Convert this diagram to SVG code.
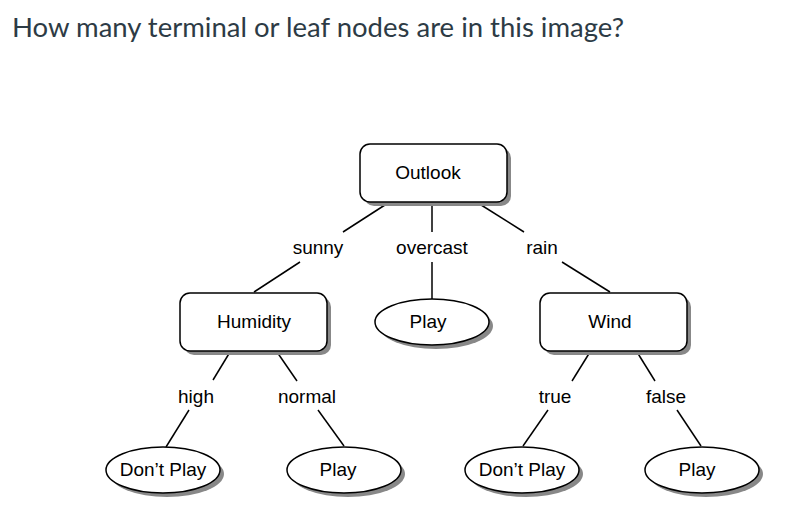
<svg xmlns="http://www.w3.org/2000/svg" width="791" height="515" viewBox="0 0 791 515">
<style>
.box{fill:#fff;stroke:#000;stroke-width:1.5}
.sh{fill:#888}
.t{font-family:"Liberation Sans",Arial,sans-serif;font-size:19px;fill:#000;text-anchor:middle}
.c line{stroke:#000;stroke-width:1.5}
</style>
<rect width="791" height="515" fill="#fff"/>
<text x="12" y="37" font-family="Lato,sans-serif" font-size="27.5" fill="#2d3b45">How many terminal or leaf nodes are in this image?</text>
<g class="c">
<line x1="388" y1="203" x2="343" y2="232"/><line x1="300" y1="262" x2="254" y2="292"/>
<line x1="432" y1="203" x2="432" y2="232"/><line x1="432" y1="262" x2="432" y2="299"/>
<line x1="478" y1="203" x2="524" y2="232"/><line x1="562" y1="262" x2="610" y2="292"/>
<line x1="230" y1="352" x2="213" y2="380"/><line x1="189" y1="410" x2="166" y2="447"/>
<line x1="277" y1="352" x2="297" y2="381"/><line x1="318" y1="410" x2="344" y2="446"/>
<line x1="590" y1="352" x2="572" y2="381"/><line x1="548" y1="410" x2="523" y2="446"/>
<line x1="637" y1="352" x2="655" y2="381"/><line x1="677" y1="410" x2="701" y2="446"/>
</g>
<text class="t" x="318" y="254">sunny</text>
<text class="t" x="432" y="254">overcast</text>
<text class="t" x="542" y="254">rain</text>
<text class="t" x="196" y="403">high</text>
<text class="t" x="307" y="403">normal</text>
<text class="t" x="555" y="403">true</text>
<text class="t" x="666" y="403">false</text>
<g id="outlook"><rect class="sh" x="364" y="148" width="147" height="58" rx="10"/><rect class="box" x="360" y="144" width="147" height="58" rx="10"/><text class="t" x="428" y="179">Outlook</text></g>
<g id="humidity"><rect class="sh" x="184" y="297" width="147" height="58" rx="10"/><rect class="box" x="180" y="293" width="147" height="58" rx="10"/><text class="t" x="254" y="328">Humidity</text></g>
<g id="wind"><rect class="sh" x="544" y="297" width="147" height="58" rx="10"/><rect class="box" x="540" y="293" width="147" height="58" rx="10"/><text class="t" x="610" y="328">Wind</text></g>
<g id="play1"><ellipse class="sh" cx="436" cy="326" rx="57" ry="23"/><ellipse class="box" cx="432" cy="322" rx="57" ry="23"/><text class="t" x="428" y="328">Play</text></g>
<g id="dontplay1"><ellipse class="sh" cx="167" cy="474" rx="57" ry="23"/><ellipse class="box" cx="163" cy="470" rx="57" ry="23"/><text class="t" x="163" y="476">Don’t Play</text></g>
<g id="play2"><ellipse class="sh" cx="348" cy="474" rx="57" ry="23"/><ellipse class="box" cx="344" cy="470" rx="57" ry="23"/><text class="t" x="338" y="476">Play</text></g>
<g id="dontplay2"><ellipse class="sh" cx="526" cy="474" rx="57" ry="23"/><ellipse class="box" cx="522" cy="470" rx="57" ry="23"/><text class="t" x="522" y="476">Don’t Play</text></g>
<g id="play3"><ellipse class="sh" cx="706" cy="474" rx="57" ry="23"/><ellipse class="box" cx="702" cy="470" rx="57" ry="23"/><text class="t" x="697" y="476">Play</text></g>
</svg>
